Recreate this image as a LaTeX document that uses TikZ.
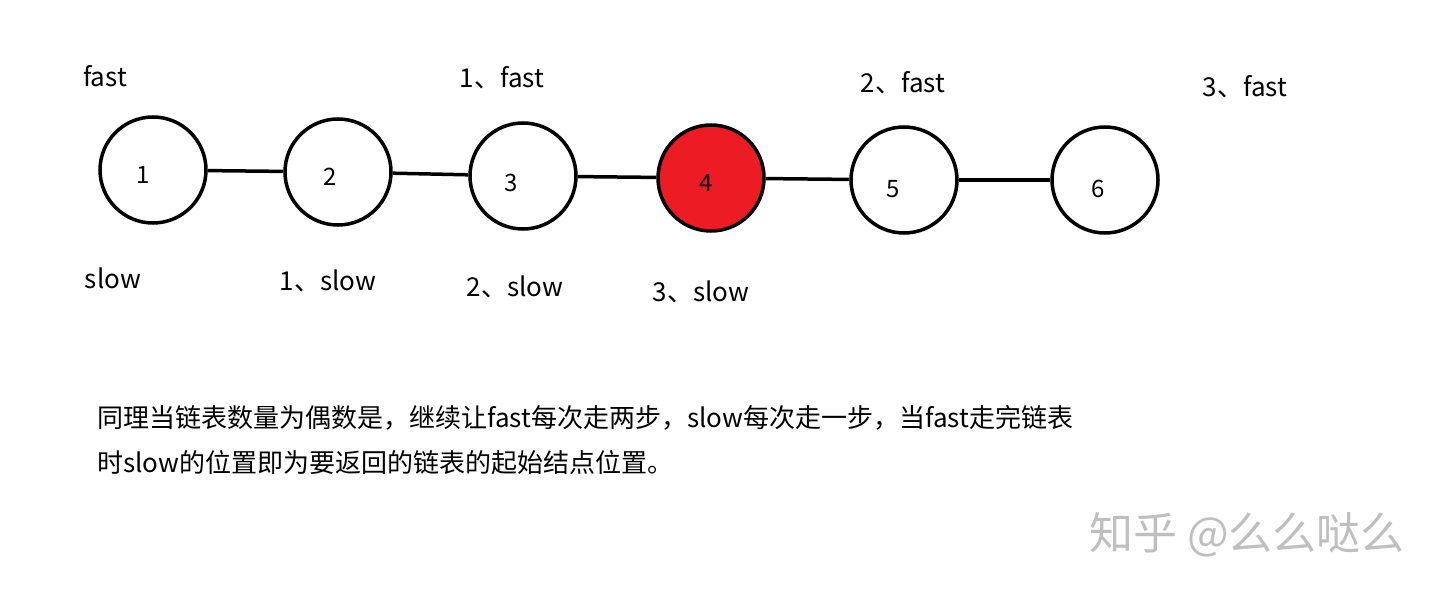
\documentclass[tikz,border=0pt]{standalone}
\usepackage{fontspec}
\setmainfont{Noto Sans CJK SC}
\definecolor{nred}{HTML}{ED1C24}
\begin{document}
\begin{tikzpicture}[x=1pt,y=-1pt,
  nd/.style={circle,draw,line width=3.5pt,minimum width=106pt,inner sep=0pt},
  lb/.style={font=\fontsize{26}{30}\selectfont},
  num/.style={font=\fontsize{24}{28}\selectfont},
  link/.style={line width=3.5pt}]
\useasboundingbox (0,0) rectangle (1440,596);
\node[nd] (c1) at (153,170) {};
\node[nd] (c2) at (338,172) {};
\node[nd] (c3) at (523,176) {};
\node[nd,fill=nred] (c4) at (711,178) {};
\node[nd] (c5) at (904,180) {};
\node[nd] (c6) at (1105,180) {};
\node[num] (n1) at (143,175) {1};
\node[num] (n2) at (330,177) {2};
\node[num] (n3) at (511,183) {3};
\node[num] (n4) at (706,183) {4};
\node[num] (n5) at (893,189) {5};
\node[num] (n6) at (1098,189) {6};
\draw[link] (c1)--(c2);
\draw[link] (c2)--(c3);
\draw[link] (c3)--(c4);
\draw[link] (c4)--(c5);
\draw[link] (c5)--(c6);
\node[lb] (f0) at (105,76) {fast};
\node[lb] (f1) at (502,78) {1、fast};
\node[lb] (f2) at (903,83) {2、fast};
\node[lb] (f3) at (1245,87) {3、fast};
\node[lb] (s0) at (113,278) {slow};
\node[lb] (s1) at (328,281) {1、slow};
\node[lb] (s2) at (515,287) {2、slow};
\node[lb] (s3) at (701,292) {3、slow};
\node[lb,anchor=west,inner sep=0pt] (t1) at (97,418) {同理当链表数量为偶数是，继续让fast每次走两步，slow每次走一步，当fast走完链表};
\node[lb,anchor=west,inner sep=0pt] (t2) at (97,463) {时slow的位置即为要返回的链表的起始结点位置。};
\node[text=black!25,font=\fontsize{44}{50}\selectfont] (w) at (1247,535) {知乎 @么么哒么};
\end{tikzpicture}
\end{document}
